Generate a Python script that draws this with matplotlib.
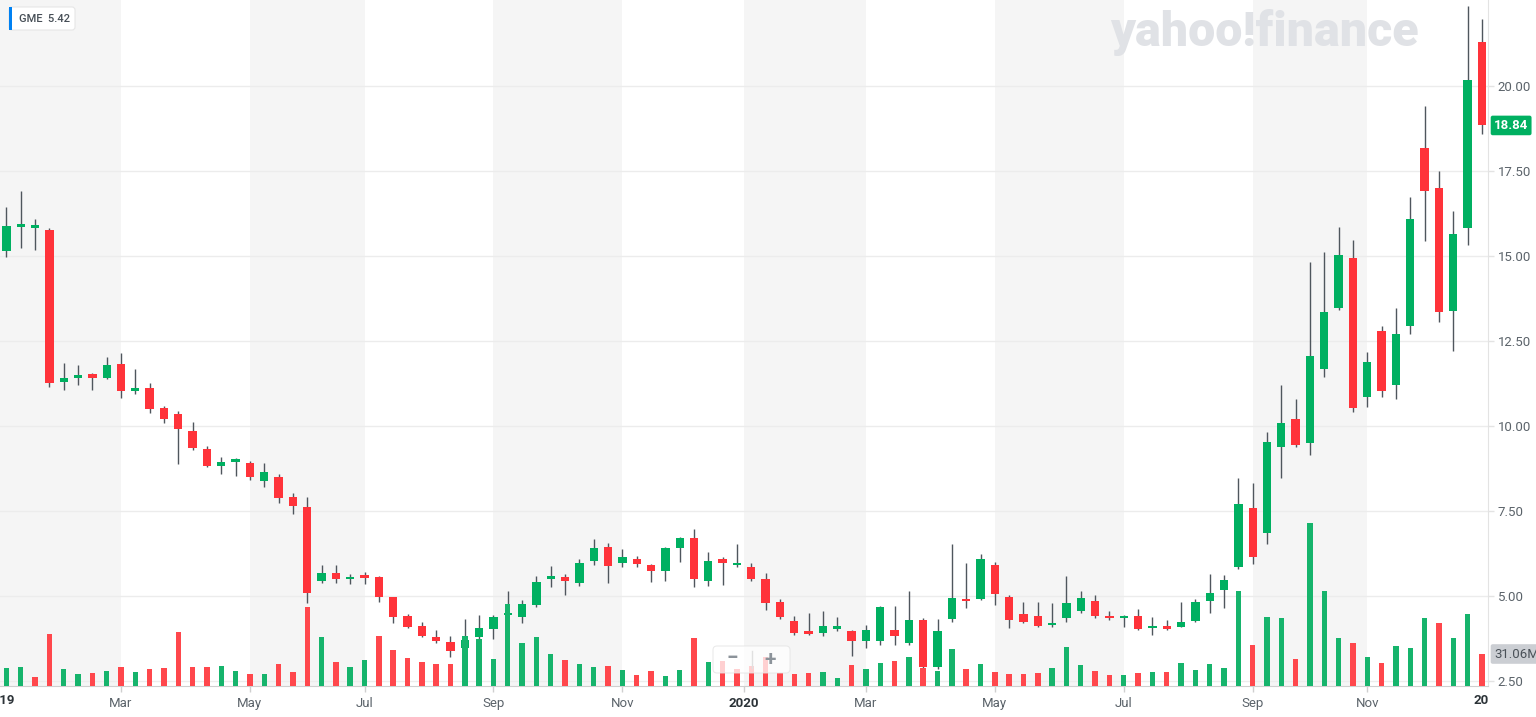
import matplotlib
matplotlib.use("Agg")
import matplotlib.pyplot as plt
import numpy as np
import pandas as pd
from matplotlib.patches import Rectangle, FancyBboxPatch
from matplotlib.transforms import Bbox, TransformedBbox, blended_transform_factory

plt.rcParams['font.family'] = ['Roboto', 'DejaVu Sans']

# GME weekly candles, first week of Jan 2019 to last week of Dec 2020
opens = [15.15, 15.85, 15.82, 15.76, 11.28, 11.41, 11.52, 11.41, 11.82, 11.04,
         11.13, 10.52, 10.35, 9.85, 9.32, 8.81, 8.94, 8.90, 8.39, 8.51,
         7.90, 7.63, 5.45, 5.69, 5.49, 5.61, 5.57, 4.96, 4.41, 4.12,
         3.78, 3.66, 3.46, 3.79, 4.03, 4.44, 4.37, 4.74, 5.50, 5.55,
         5.39, 6.03, 6.43, 5.98, 6.10, 5.90, 5.74, 6.42, 6.72, 5.45,
         6.10, 5.90, 5.84, 5.49, 4.82, 4.26, 3.97, 3.92, 4.03, 3.96,
         3.68, 3.67, 4.00, 3.63, 4.29, 2.92, 4.31, 4.91, 4.91, 5.90,
         4.98, 4.46, 4.41, 4.14, 4.34, 4.56, 4.85, 4.42, 4.34, 4.41,
         4.05, 4.12, 4.10, 4.27, 4.84, 5.18, 5.84, 7.60, 6.86, 9.39,
         10.21, 9.51, 11.69, 13.46, 14.95, 10.86, 12.79, 11.20, 12.94, 18.17,
         16.99, 13.39, 15.81, 21.30]
highs = [16.44, 16.92, 16.09, 15.81, 11.84, 11.79, 11.55, 12.04, 12.14, 11.68,
         11.27, 10.60, 10.45, 10.11, 9.41, 9.08, 9.05, 8.97, 8.90, 8.59,
         8.04, 7.90, 5.91, 5.91, 5.64, 5.72, 5.60, 4.98, 4.46, 4.24,
         4.00, 3.83, 4.32, 4.44, 4.44, 5.16, 4.88, 5.60, 5.88, 5.65,
         6.09, 6.68, 6.55, 6.37, 6.19, 5.93, 6.45, 6.75, 6.97, 6.30,
         6.15, 6.52, 5.96, 5.67, 4.90, 4.41, 4.49, 4.57, 4.39, 4.00,
         4.15, 4.71, 4.71, 5.16, 4.34, 4.31, 6.52, 5.96, 6.24, 5.99,
         5.02, 4.81, 4.81, 4.78, 5.59, 5.15, 5.03, 4.57, 4.45, 4.62,
         4.39, 4.29, 4.81, 4.91, 5.64, 5.62, 8.47, 8.31, 9.81, 11.21,
         10.79, 14.81, 15.11, 15.85, 15.47, 12.19, 12.95, 13.48, 16.74, 19.41,
         17.50, 16.32, 22.35, 21.96]
lows = [14.98, 15.23, 15.18, 11.14, 11.06, 11.21, 11.06, 11.38, 10.81, 10.94,
        10.39, 10.10, 8.87, 9.30, 8.79, 8.59, 8.53, 8.41, 8.21, 7.73,
        7.41, 4.79, 5.37, 5.37, 5.35, 5.35, 4.81, 4.20, 4.05, 3.80,
        3.61, 3.21, 3.33, 3.71, 3.74, 4.29, 4.20, 4.67, 5.27, 5.03,
        5.28, 5.91, 5.37, 5.84, 5.84, 5.42, 5.45, 6.01, 5.26, 5.30,
        5.32, 5.85, 5.45, 4.59, 4.31, 3.85, 3.85, 3.82, 3.98, 3.25,
        3.46, 3.56, 3.56, 3.56, 2.85, 2.85, 4.24, 4.66, 4.88, 4.74,
        4.05, 4.21, 4.10, 4.10, 4.24, 4.49, 4.34, 4.30, 4.10, 4.00,
        3.85, 4.00, 4.08, 4.25, 4.51, 4.64, 5.79, 5.93, 6.53, 8.46,
        9.37, 9.15, 11.45, 13.41, 10.42, 10.57, 10.86, 10.79, 12.72, 15.45,
        13.07, 12.21, 15.32, 18.58]
closes = [15.88, 15.94, 15.90, 11.27, 11.40, 11.49, 11.41, 11.79, 11.03, 11.11,
          10.49, 10.20, 9.91, 9.35, 8.83, 8.94, 9.02, 8.51, 8.66, 7.87,
          7.65, 5.08, 5.69, 5.49, 5.52, 5.54, 4.98, 4.39, 4.10, 3.83,
          3.67, 3.39, 3.71, 4.05, 4.39, 4.48, 4.76, 5.40, 5.60, 5.45,
          5.98, 6.40, 5.89, 6.16, 5.95, 5.74, 6.40, 6.72, 5.50, 6.04,
          5.98, 5.92, 5.50, 4.80, 4.39, 3.92, 3.88, 4.12, 4.13, 3.68,
          4.00, 4.67, 3.83, 4.29, 2.90, 3.97, 4.93, 4.85, 6.10, 5.05,
          4.29, 4.24, 4.12, 4.22, 4.78, 4.93, 4.42, 4.34, 4.41, 4.03,
          4.12, 4.04, 4.24, 4.81, 5.10, 5.47, 7.71, 6.16, 9.52, 10.08,
          9.44, 12.07, 13.34, 15.04, 10.52, 11.89, 11.04, 12.72, 16.09, 16.91,
          13.36, 15.65, 20.18, 18.84]
# weekly volume, millions of shares
volumes = [17.2, 18.2, 9.0, 50.2, 16.2, 11.6, 12.6, 14.6, 18.7, 13.6,
           16.2, 17.2, 52.1, 18.2, 18.2, 19.7, 14.6, 11.6, 11.6, 21.6,
           13.6, 77.0, 47.6, 23.6, 18.7, 25.2, 48.8, 34.9, 27.5, 23.3,
           21.6, 21.6, 48.8, 45.3, 25.9, 79.5, 41.4, 47.9, 31.3, 25.2,
           21.6, 18.7, 19.7, 15.8, 10.7, 14.9, 9.4, 15.8, 46.3, 23.3,
           24.3, 16.8, 19.4, 28.4, 12.6, 11.6, 12.3, 13.9, 7.5, 20.4,
           16.5, 22.3, 24.3, 28.4, 17.8, 14.9, 35.9, 16.5, 21.4, 13.9,
           11.4, 11.4, 12.3, 17.5, 38.1, 20.4, 14.9, 10.4, 10.4, 12.3,
           13.9, 13.9, 22.3, 15.8, 21.4, 17.8, 92.5, 39.8, 67.3, 66.3,
           25.9, 157.9, 92.5, 46.3, 41.4, 27.9, 22.3, 39.1, 37.2, 65.7,
           60.9, 46.9, 69.9, 31.06]

price_ticks = [2.5, 5.0, 7.5, 10.0, 12.5, 15.0, 17.5, 20.0]
ticker = "GME"
ticker_value = "5.42"

W, H = 1536, 717
GREEN = '#00b061'
RED = '#ff333a'
WICK = '#4f565d'
LABEL = '#5b636a'

opens = np.array(opens); closes = np.array(closes)
highs = np.array(highs); lows = np.array(lows)
x = np.arange(len(opens))
weeks = pd.date_range('2019-01-07', periods=len(opens), freq='W-MON')

# month ticks on the first candle of odd months, year ticks between Dec and Jan
month_ticks = []
year_ticks = [(-0.5, str(weeks[0].year))]
for i in range(1, len(weeks)):
    d, p = weeks[i], weeks[i - 1]
    if d.year != p.year:
        year_ticks.append((i - 0.5, str(d.year)))
    elif d.month != p.month and d.month % 2 == 1:
        month_ticks.append((i, d.strftime('%b')))
year_ticks.append((len(weeks) - 0.5, str(weeks[-1].year + 1)))

fig = plt.figure(figsize=(W / 100, H / 100), dpi=100)
ax = fig.add_axes([0, 31 / H, 1488 / W, 686 / H])   # price
axv = ax.twinx()                                     # volume, drawn on top
axv.patch.set_visible(False)

x0, dx = 6.4, 14.325
ax.set_xlim(-x0 / dx, (1488 - x0) / dx)
ymin, ymax = 20 - 600 / 34, 20 + 86 / 34
ax.set_ylim(ymin, ymax)
axv.set_ylim(0, 686 * 31.06 / 32)

# alternating two-month bands
bounds = sorted([t[0] for t in month_ticks] + [t[0] for t in year_ticks])
for k in range(len(bounds) - 1):
    if k % 2 == 0:
        ax.axvspan(bounds[k], bounds[k + 1], color='#f5f5f5', lw=0, zorder=0)

ax.set_yticks(price_ticks)
ax.yaxis.tick_right()
ax.set_yticklabels(['%.2f' % p for p in price_ticks])
ax.grid(axis='y', color='#ececec', lw=1)
ax.set_axisbelow(True)
ax.tick_params(axis='y', length=4, width=1, color='#e3e3e3', labelcolor=LABEL,
               labelsize=9.5, pad=3, left=False, labelleft=False)

# candles
ccol = np.where(closes >= opens, GREEN, RED)
ax.vlines(x, lows, highs, color=WICK, lw=1, zorder=3)
body = np.maximum(np.abs(closes - opens), 0.06)
ax.bar(x, body, bottom=np.minimum(opens, closes), width=0.58, color=ccol, zorder=4)

# volume bars coloured by close vs previous close
prev = np.r_[closes[0] - 1, closes[:-1]]
vcol = np.where(closes >= prev, '#16b46c', '#ff474c')
axv.bar(x, volumes, width=0.38, color=vcol, zorder=2)

# axes styling
for s in ['top', 'left']:
    ax.spines[s].set_visible(False)
    axv.spines[s].set_visible(False)
axv.spines['right'].set_visible(False)
axv.spines['bottom'].set_visible(False)
ax.spines['bottom'].set_color('#cfcfcf')
ax.spines['right'].set_color('#e3e3e3')
axv.set_yticks([])

xt = [t[0] for t in month_ticks] + [year_ticks[1][0]]
xl = [t[1] for t in month_ticks] + [year_ticks[1][1]]
ax.set_xticks(xt)
ax.set_xticklabels(xl)
ax.tick_params(axis='x', length=4, width=1, color='#cfcfcf', labelcolor=LABEL,
               labelsize=9.5, pad=4)
for lab in ax.get_xticklabels():
    if lab.get_text().isdigit():
        lab.set_fontweight('bold')
        lab.set_color('#2c3338')

# edge year labels, clipped by the price label column
clip = TransformedBbox(Bbox([[0, 0], [1488 / W, 1]]), fig.transFigure)
tr = blended_transform_factory(ax.transData, fig.transFigure)
for pos, lab in [year_ticks[0], year_ticks[-1]]:
    t = ax.text(pos, 1 - 700 / H, lab, transform=tr, ha='center', va='center',
                fontsize=9.5, fontweight='bold', color='#2c3338', clip_on=True)
    t.set_clip_box(clip)

# last price / last volume flags
trp = blended_transform_factory(ax.transAxes, ax.transData)
ax.text(1 + 6 / 1488, closes[-1], '%.2f' % closes[-1], transform=trp, ha='left',
        va='center', fontsize=9.5, fontweight='bold', color='white', clip_on=False,
        bbox=dict(boxstyle='round,pad=0.25,rounding_size=0.15', fc=GREEN, ec='none'))
trv = blended_transform_factory(axv.transAxes, axv.transData)
axv.text(1 + 6 / 1488, volumes[-1], '%.2fM' % volumes[-1], transform=trv, ha='left',
         va='center', fontsize=9.5, color='#4a5158', clip_on=False,
         bbox=dict(boxstyle='round,pad=0.25,rounding_size=0.15', fc='#cbced3', ec='none'))

# pixel helper (top-left origin)
def px(xp, yp):
    return xp / 100, (H - yp) / 100

inch = fig.dpi_scale_trans

# ticker chip
fig.patches.append(FancyBboxPatch(px(9, 30), 0.66, 0.23, boxstyle='round,pad=0,rounding_size=0.03',
                                  fc='white', ec='#e6e6e6', lw=0.8, transform=inch, figure=fig))
fig.patches.append(Rectangle(px(9, 30), 0.03, 0.23, fc='#0081f2', ec='none',
                             transform=inch, figure=fig))
fig.text(*px(19, 19), '%s  %s' % (ticker, ticker_value), transform=inch, ha='left',
         va='center', fontsize=8, color='#464e56', fontweight='medium')

# zoom control
fig.patches.append(FancyBboxPatch(px(713, 673), 0.77, 0.27, boxstyle='round,pad=0,rounding_size=0.04',
                                  fc='white', ec='#e4e4e4', lw=0.8, alpha=0.75,
                                  transform=inch, figure=fig))
fig.lines.append(plt.Line2D([7.52, 7.52], [(H - 651) / 100, (H - 668) / 100], color='#e0e0e0',
                            lw=1, transform=inch, figure=fig))
fig.text(*px(732, 659), '\u2212', transform=inch, ha='center', va='center',
         fontsize=15, fontweight='bold', color='#8c939a')
fig.text(*px(770, 659), '+', transform=inch, ha='center', va='center',
         fontsize=15, fontweight='bold', color='#8c939a')

# watermark
wm = fig.text(*px(1110, 32), 'yahoo!finance', transform=inch, ha='left', va='center',
              fontsize=30, fontweight='black', color='#e0e2e6', zorder=0.5)
fig.canvas.draw()
w = wm.get_window_extent().width
wm.set_fontsize(30 * 308 / w)

fig.savefig('out.png', dpi=100)
